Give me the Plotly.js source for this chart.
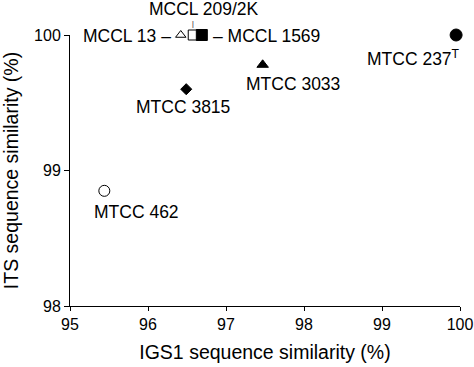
<!DOCTYPE html>
<html><head><meta charset="utf-8">
<script src="https://cdn.plot.ly/plotly-3.0.1.min.js"></script>
<style>body{margin:0;background:#fff}#c{width:474px;height:367px}</style>
</head><body><div id="c"></div>
<script>
const strains = ["MTCC 237<sup>T</sup>", "MCCL 1569", "MCCL 209/2K", "MCCL 13", "MTCC 3033", "MTCC 3815", "MTCC 462"];
const igs1 = [99.95, 96.69, 96.58, 96.42, 97.47, 96.49, 95.44];
const its = [100.0, 100.0, 100.0, 100.0, 99.78, 99.60, 98.85];
const xTicks = [95, 96, 97, 98, 99, 100];
const yTicks = [98, 99, 100];

const symbols = ["circle", "square", "square-open", "triangle-up-open", "triangle-up", "diamond", "circle-open"];
const sizes = [12, 11, 10, 9, 10, 8.5, 11];
// label placement (style only)
const place = [
  {xanchor:"right", xshift:6, yshift:-23, pre:"", post:""},
  {xanchor:"left", xshift:9, yshift:-1, pre:"– ", post:""},
  {xanchor:"center", xshift:11, yshift:26, pre:"", post:""},
  {xanchor:"right", xshift:-8, yshift:-1, pre:"", post:" –"},
  {xanchor:"center", xshift:30, yshift:-19, pre:"", post:""},
  {xanchor:"center", xshift:-3, yshift:-18, pre:"", post:""},
  {xanchor:"center", xshift:32, yshift:-21, pre:"", post:""}
];
const labelFont = {family: "Liberation Sans, Arial, sans-serif", size: 17.5, color: "#000"};

const annotations = strains.map((s, i) => ({
  x: igs1[i], y: its[i], xref: "x", yref: "y",
  text: place[i].pre + s + place[i].post, showarrow: false,
  xanchor: place[i].xanchor, yanchor: "middle",
  xshift: place[i].xshift, yshift: place[i].yshift,
  font: labelFont
}));
// small connector linking MCCL 209/2K to its marker
annotations.push({x: igs1[2], y: its[2], xref: "x", yref: "y", text: "|", showarrow: false,
  xanchor: "center", yanchor: "middle", yshift: 11, borderpad: 0,
  font: {family: "Liberation Sans, Arial, sans-serif", size: 7, color: "#000"}});

const trace = {
  x: igs1, y: its, mode: "markers", type: "scatter", cliponaxis: false,
  marker: {symbol: symbols, size: sizes, color: "#000", opacity: 1, line: {color: "#000", width: 1}},
  hoverinfo: "none"
};

const tickFont = {family: "Liberation Sans, Arial, sans-serif", size: 16, color: "#000"};
const titleFont = {family: "Liberation Sans, Arial, sans-serif", size: 19.5, color: "#000"};
const layout = {
  width: 474, height: 367,
  margin: {l: 70, r: 14, t: 35, b: 61},
  paper_bgcolor: "#fff", plot_bgcolor: "#fff",
  showlegend: false,
  font: tickFont,
  xaxis: {range: [95, 100], tickvals: xTicks, ticktext: xTicks.map(String),
    showgrid: false, zeroline: false, showline: true, linecolor: "#000", linewidth: 1,
    ticks: "outside", ticklen: 4, tickcolor: "#000", tickfont: tickFont, ticklabeloverflow: "allow",
    title: {text: "IGS1 sequence similarity (%)", font: titleFont, standoff: 13}},
  yaxis: {range: [98, 100], tickvals: yTicks, ticktext: yTicks.map(String),
    showgrid: false, zeroline: false, showline: true, linecolor: "#000", linewidth: 1,
    ticks: "outside", ticklen: 5, tickcolor: "#000", tickfont: tickFont, ticklabeloverflow: "allow",
    title: {text: "ITS sequence similarity (%)", font: titleFont, standoff: 13}},
  annotations: annotations
};
Plotly.newPlot("c", [trace], layout, {staticPlot: true});
</script></body></html>
